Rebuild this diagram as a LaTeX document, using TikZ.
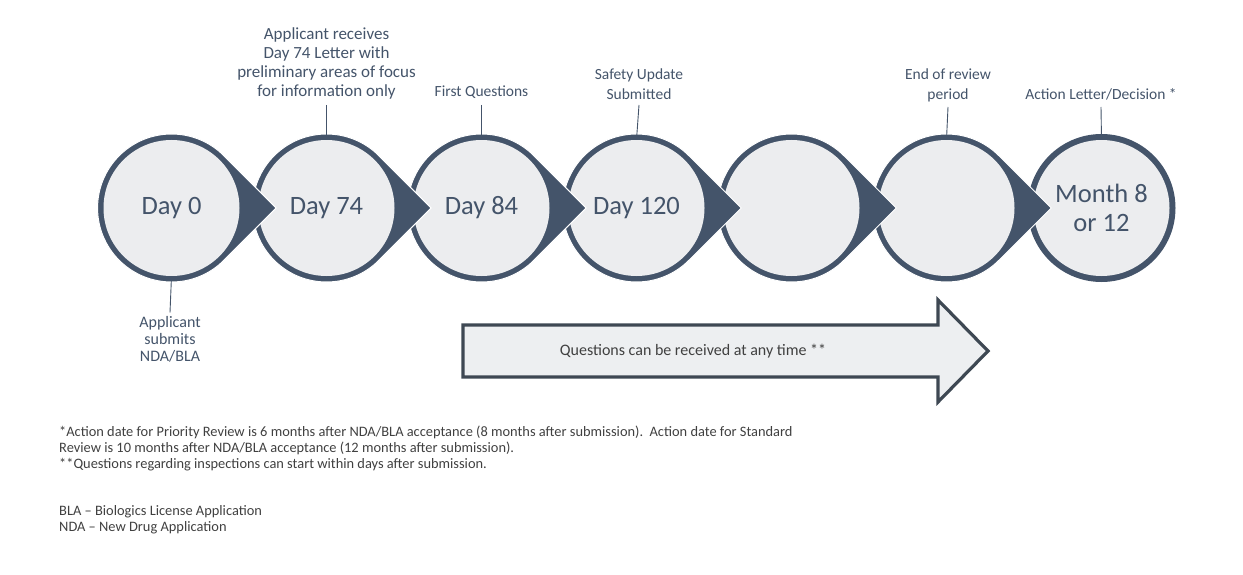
\documentclass[tikz,border=0pt]{standalone}
\usepackage{fontspec}
\setmainfont{Carlito}
\definecolor{ring}{HTML}{44546A}
\definecolor{disc}{HTML}{ECEDEF}
\definecolor{txt}{HTML}{44546A}
\definecolor{foot}{HTML}{404040}
\definecolor{arrline}{HTML}{3E4853}
\definecolor{arrfill}{HTML}{EDEFF1}
\begin{document}
\begin{tikzpicture}[x=1pt,y=1pt,
  discnode/.style={circle, fill=disc, inner sep=0pt, minimum size=136pt, text=txt,
    font=\fontsize{26.5}{29}\selectfont, align=center},
  toplabel/.style={text=txt, font=\fontsize{15.5}{19.5}\selectfont, align=center, inner sep=0pt, anchor=south},
  tick/.style={draw=ring, line width=0.9pt},
  footnote/.style={text=foot, anchor=north west, align=left, inner sep=0pt, font=\fontsize{14.4}{16}\selectfont}]
\useasboundingbox (0,0) rectangle (1243,-575);

\foreach \i/\t in {7/{Month 8\\or 12}, 6/{}, 5/{}, 4/{Day 120}, 3/{Day 84}, 2/{Day 74}, 1/{Day 0}}{
  \pgfmathsetmacro\cx{171.5+155*(\i-1)}
  \ifnum\i<7
    \filldraw[fill=ring, draw=white, line width=1pt] (\cx+104.7,-208) -- ++(135:74pt) arc[start angle=45, end angle=315, radius=74pt] -- cycle;
  \else
    \fill[ring] (\cx,-208) circle[radius=74pt];
  \fi
  \node[discnode] (c\i) at (\cx,-208) {\t};
}

\node[toplabel, font=\fontsize{17}{18.7}\selectfont] (l2) at (326.5,-99) {Applicant receives\\Day 74 Letter with\\preliminary areas of focus\\for information only};
\node[toplabel] (l3) at (481.5,-99) {First Questions};
\node[toplabel] (l4) at (639,-99.5) {Safety Update\\Submitted};
\node[toplabel] (l6) at (948,-102) {End of review\\period};
\node[toplabel] (l7) at (1101,-100) {Action Letter/Decision *};
\node[text=txt, font=\fontsize{16}{17}\selectfont, align=center, anchor=north, inner sep=0pt] (l1) at (170,-316.5) {Applicant\\submits\\NDA/BLA};

\draw[tick] ([yshift=-6pt]l2.south) -- (c2.north);
\draw[tick] ([yshift=-6pt]l3.south) -- (c3.north);
\draw[tick] ([yshift=-5.5pt]l4.south) -- (c4.north);
\draw[tick] ([yshift=-5pt]l6.south) -- (c6.north);
\draw[tick] ([yshift=-7pt]l7.south) -- (c7.north);
\draw[tick] (c1.south) -- ([yshift=4pt]l1.north);

\draw[draw=arrline, fill=arrfill, line width=3.2pt, line join=miter]
  (463,-325) -- (938,-325) -- (938,-300) -- (988,-351) -- (938,-402) -- (938,-377) -- (463,-377) -- cycle;
\node[text=foot, font=\fontsize{16}{18}\selectfont, inner sep=0pt] (q) at (693,-351) {Questions can be received at any time **};

\node[footnote] (f1) at (59,-425.5) {*Action date for Priority Review is 6 months after NDA/BLA acceptance (8 months after submission).\ \ Action date for Standard\\Review is 10 months after NDA/BLA acceptance (12 months after submission).\\**Questions regarding inspections can start within days after submission.};
\node[footnote] (f2) at (59,-505.5) {BLA -- Biologics License Application\\NDA -- New Drug Application};
\end{tikzpicture}
\end{document}
